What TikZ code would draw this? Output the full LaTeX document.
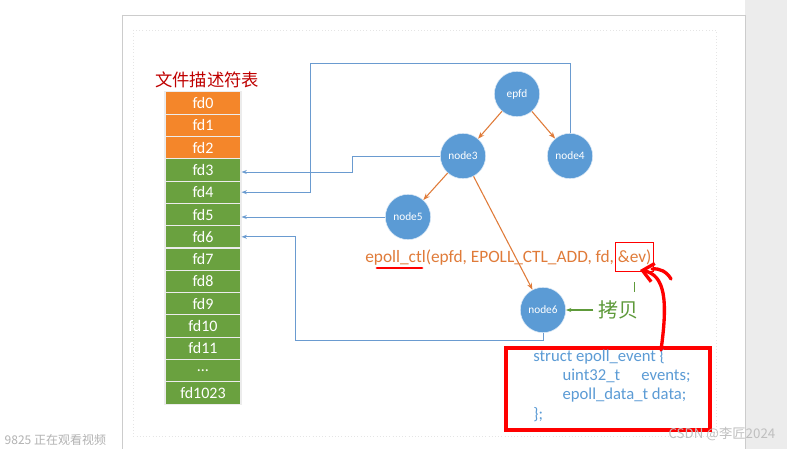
\documentclass[tikz,border=0pt]{standalone}
\usepackage{fontspec}
\setmainfont{Carlito}
\newfontfamily\cjk{Noto Sans CJK SC}
\usetikzlibrary{arrows.meta}
\definecolor{bl}{HTML}{5B9BD5}
\definecolor{ln}{HTML}{6A9BD0}
\definecolor{org}{HTML}{E07B39}
\definecolor{grn}{HTML}{5E9A3A}
\definecolor{og}{HTML}{F4862A}
\definecolor{gr2}{HTML}{6AA13F}
\begin{document}
\begin{tikzpicture}[x=0.75pt,y=-0.75pt,
  cell/.style={draw=white!85!gray,line width=0.8pt,minimum width=57pt,minimum height=16.7pt,inner sep=0pt,text=white,font=\fontsize{12}{12}\selectfont},
  circ/.style={circle,fill=bl,draw=white!80!bl,minimum size=34pt,inner sep=0pt,text=white,font=\fontsize{8.5}{8.5}\selectfont},
  oa/.style={draw=org,line width=0.8pt,-{Stealth[length=5pt]}},
  bln/.style={draw=ln,line width=0.7pt,-{Stealth[length=4pt]}}]
\useasboundingbox (0,0) rectangle (787,449);
\fill[white] (0,0) rectangle (787,449);
\fill[gray!15] (745,0) rectangle (787,449);
\draw[gray!40] (122,15) -- (122,449);
\draw[gray!40] (122,15) -- (745,15) -- (745,449);
\draw[gray!20,dotted] (133,30) rectangle (716,436);
\node[text=red!75!black,font=\cjk\fontsize{13}{13}\selectfont] (title) at (207,80) {文件描述符表};
\foreach \t/\cl [count=\i from 0] in {fd0/og,fd1/og,fd2/og,fd3/gr2,fd4/gr2,fd5/gr2,fd6/gr2,fd7/gr2,fd8/gr2,fd9/gr2,fd10/gr2,fd11/gr2,\ldots/gr2,fd1023/gr2}
  \node[cell,fill=\cl] (f\i) at (203,{103+22.3*\i}) {\t};
\node[circ] (epfd) at (517,94) {epfd};
\node[circ] (n3) at (463,156) {node3};
\node[circ] (n4) at (570,156) {node4};
\node[circ] (n5) at (408,217) {node5};
\node[circ] (n6) at (543,310) {node6};
\draw[oa] (epfd) -- (n3);
\draw[oa] (epfd) -- (n4);
\draw[oa] (n3) -- (n5);
\draw[oa] (n3) -- (n6);
\draw[bln] (n4.north) |- (310,63) |- (f4.east);
\draw[bln] (n3.west) -| (352,172) -- (f3.east|-0,172);
\draw[bln] (n5.west) -- (f5.east|-n5);
\draw[bln] (n6.south) |- (295,340) |- (f6.east);
\node[text=org,font=\fontsize{13}{13}\selectfont,anchor=west,inner sep=0pt] (call) at (365,258) {epoll\_ctl(epfd, EPOLL\_CTL\_ADD, fd, \&ev)};
\node[draw=red,line width=0.9pt,minimum width=28pt,minimum height=22pt,inner sep=0pt] (evbox) at (634.5,257) {};
\coordinate (u1) at (377,268); \coordinate (u2) at (422,268);
\draw[red,line width=2.2pt,line cap=round] (u1) -- (u2);
\node[text=grn,font=\cjk\fontsize{15}{15}\selectfont] (copy) at (618,310) {拷贝};
\draw[draw=grn,line width=0.8pt,-{Stealth[length=4pt]}] (copy.west) -- (n6.east);
\draw[grn,line width=0.6pt] (634,282) -- (634,292);
\node[draw=red,line width=3pt,minimum width=153pt,minimum height=61pt,inner sep=0pt] (sbox) at (608,389) {};
\node[text=bl,font=\fontsize{12.5}{14.5}\selectfont,align=left,anchor=north west,inner sep=0pt] (code) at (533,349)
 {struct epoll\_event \{\\\hspace{22pt}uint32\_t\hspace{16pt}events;\\\hspace{22pt}epoll\_data\_t data;\\\};};
\draw[red,line width=2.5pt,line cap=round,-{Straight Barb[length=8pt,width=14pt]}] (661,350) .. controls (668,300) and (665,275) .. (640,270);
\draw[red,line width=2.5pt,line cap=round] (652,269) .. controls (660,268) and (667,272) .. (671,279);
\node[gray!60,font=\cjk\fontsize{9}{9}\selectfont,anchor=west] (w1) at (0,440) {9825 正在观看视频};
\node[gray!50,font=\cjk\fontsize{10}{10}\selectfont,anchor=east] (w2) at (780,434) {CSDN @李匠2024};
\end{tikzpicture}
\end{document}
